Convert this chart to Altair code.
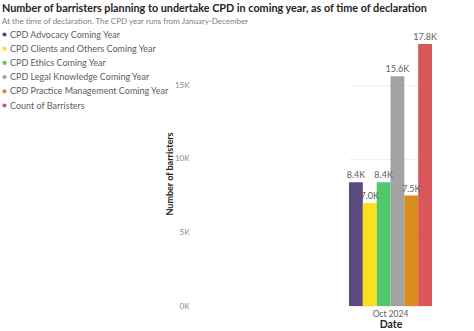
import altair as alt
import pandas as pd

series = [
    "CPD Advocacy Coming Year",
    "CPD Clients and Others Coming Year",
    "CPD Ethics Coming Year",
    "CPD Legal Knowledge Coming Year",
    "CPD Practice Management Coming Year",
    "Count of Barristers",
]
values = [8400, 7000, 8400, 15600, 7500, 17800]
dates = ["Oct 2024"] * len(series)
colors = ["#5B4A7D", "#FCE01C", "#52C86A", "#A3A3A3", "#D98B1B", "#D9565A"]

df = pd.DataFrame({"Date": dates, "Series": series, "Value": values})

FONT = "Lato"

base = alt.Chart(df).encode(
    x=alt.X(
        "Date:N",
        scale=alt.Scale(range=[156, 239], paddingInner=0, paddingOuter=0),
        axis=alt.Axis(
            title="Date",
            labelAngle=0,
            ticks=False,
            domain=False,
            labelFontSize=8.5,
            labelColor="#605E5C",
            labelPadding=3,
            titleFontSize=10.5,
            titleFontWeight="bold",
            titleColor="#252423",
            titlePadding=2,
        ),
    ),
    xOffset=alt.XOffset("Series:N", sort=series, scale=alt.Scale(paddingInner=0, paddingOuter=0)),
    y=alt.Y(
        "Value:Q",
        scale=alt.Scale(domain=[0, 18000], nice=False),
        axis=alt.Axis(
            title="Number of barristers",
            values=[0, 5000, 10000, 15000],
            labelExpr="datum.value / 1000 + 'K'",
            ticks=False,
            domain=False,
            grid=True,
            gridColor="#EFEFEF",
            labelFontSize=8,
            labelColor="#8A8886",
            labelPadding=4,
            titleFontSize=9,
            titleFontWeight="bold",
            titleColor="#252423",
            titlePadding=0,
        ),
    ),
)

bars = base.mark_bar().encode(
    color=alt.Color(
        "Series:N",
        sort=series,
        scale=alt.Scale(domain=series, range=colors),
        legend=alt.Legend(
            title=None,
            orient="none",
            legendX=-193,
            legendY=-11,
            symbolType="circle",
            symbolSize=18,
            labelFontSize=9,
            labelColor="#605E5C",
            labelFont=FONT,
            labelLimit=0,
            rowPadding=4.2,
            symbolOffset=0,
            labelOffset=1,
        ),
    )
)

labels = base.mark_text(
    baseline="bottom", dy=-2, fontSize=9, color="#605E5C", font=FONT
).transform_calculate(
    lbl="format(datum.Value / 1000, '.1f') + 'K'"
).encode(text="lbl:N")

chart = (
    alt.layer(bars, labels)
    .properties(
        width=281,
        height=265,
        title=alt.TitleParams(
            text="Number of barristers planning to undertake CPD in coming year, as of time of declaration",
            subtitle="At the time of declaration. The CPD year runs from January-December",
            anchor="start",
            frame="group",
            dx=-191,
            offset=4,
            font=FONT,
            fontSize=10.8,
            fontWeight="bold",
            color="#252423",
            subtitleFont=FONT,
            subtitleFontSize=8,
            subtitleColor="#808080",
            subtitlePadding=4,
        ),
        autosize=alt.AutoSizeParams(type="none"),
        padding={"left": 193, "top": 41, "right": 0, "bottom": 25},
    )
    .configure_view(stroke=None)
    .configure_axis(labelFont=FONT, titleFont=FONT)
)

chart.save("out.html", embed_options={"renderer": "svg", "actions": False})
